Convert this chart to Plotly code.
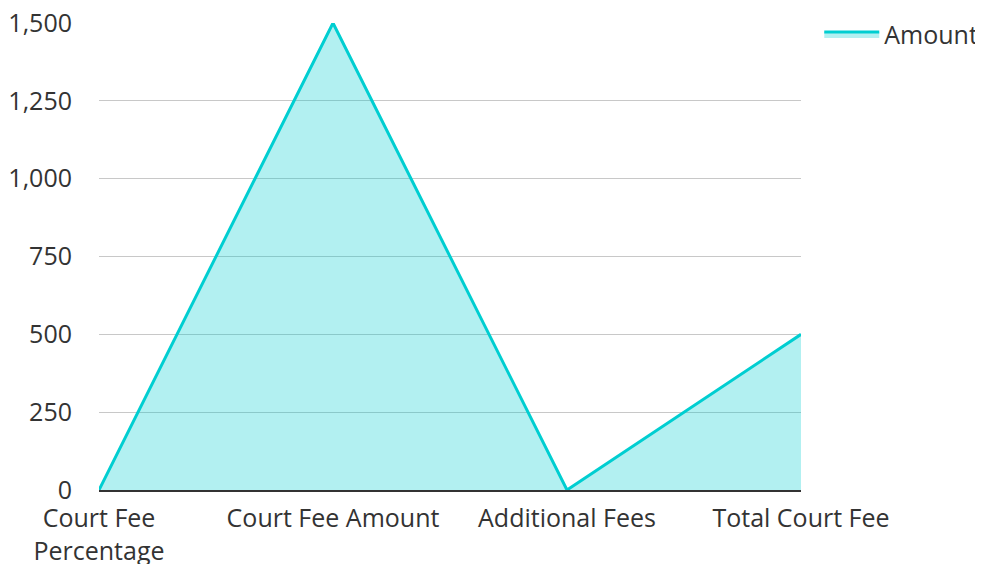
import plotly.graph_objects as go

categories = ["Court Fee<br>Percentage", "Court Fee Amount", "Additional Fees", "Total Court Fee"]
amounts = [0, 1500, 0, 500]
y_ticks = [0, 250, 500, 750, 1000, 1250, 1500]
y_tick_labels = ["0", "250", "500", "750", "1,000", "1,250", "1,500"]

fig = go.Figure()
fig.add_trace(go.Scatter(
    x=categories, y=amounts, name="Amount", mode="lines",
    line=dict(color="#00CED1", width=3),
    fill="tozeroy", fillcolor="rgba(0,206,209,0.3)",
))

fig.update_layout(
    width=983, height=564,
    margin=dict(l=91, r=190, t=15, b=82, autoexpand=False),
    paper_bgcolor="white", plot_bgcolor="white",
    font=dict(family="Open Sans", size=25, color="#333333"),
    showlegend=True,
    legend=dict(x=1.026, y=1.025, xanchor="left", yanchor="top", itemwidth=55,
                font=dict(size=25), bgcolor="rgba(0,0,0,0)"),
    xaxis=dict(type="category", range=[0, 3], showgrid=False, automargin=False,
               showline=True, linecolor="#333333", linewidth=2,
               ticks="", tickfont=dict(size=25), ticklabelstandoff=5,
               ticklabeloverflow="allow"),
    yaxis=dict(range=[0, 1500], tickvals=y_ticks, ticktext=y_tick_labels,
               showgrid=True, gridcolor="#c8c8c8", gridwidth=1, automargin=False,
               zeroline=False, ticks="", ticklabelstandoff=26,
               ticklabeloverflow="allow", tickfont=dict(size=25)),
)

fig.write_html("out.html")
